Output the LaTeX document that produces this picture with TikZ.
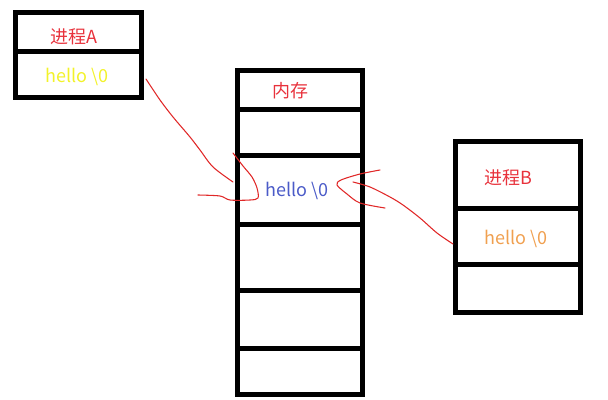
\documentclass[tikz,border=0pt]{standalone}
\usepackage{fontspec}
\setmainfont{Noto Sans CJK SC}
\usepackage{xcolor}

\definecolor{labelred}{HTML}{E8323C}
\definecolor{helloyellow}{HTML}{F2F22A}
\definecolor{helloblue}{HTML}{4B5BC8}
\definecolor{helloorange}{HTML}{F0A050}
\definecolor{penred}{HTML}{E02828}

\begin{document}
\begin{tikzpicture}[x=0.75pt,y=-0.75pt,
    box/.style={line width=3.75pt,line join=miter},
    pen/.style={penred,line width=0.8pt,line cap=round,line join=round},
    txt/.style={inner sep=0pt,font=\fontsize{13.5}{16}\selectfont}]
            		\useasboundingbox (0,0) rectangle (608,400);

            		% process A
            		\draw[box] (15.5,12.5) rectangle (141.5,97.5) (15.5,51) -- (141.5,51);
            		\node (pa) at (74,37) [txt,text=labelred] {进程A};
            		\node (ha) at (77,77) [txt,text=helloyellow] {hello \textbackslash0};

            		% memory
            		\draw[box] (237.5,70) rectangle (362.5,394.5);
            		\foreach \y in {109.5,155.5,224.5,290,348}
            			\draw[box] (237.5,\y) -- (362.5,\y);
            		\node (mem) at (290,91) [txt,text=labelred] {内存};
            		\node (hm) at (297,191) [txt,text=helloblue] {hello \textbackslash0};

            		% process B
            		\draw[box] (455.5,141.5) rectangle (580.5,312.5) (455.5,208) -- (580.5,208) (455.5,264.5) -- (580.5,264.5);
            		\node (pb) at (508,178) [txt,text=labelred] {进程B};
            		\node (hb) at (516,239) [txt,text=helloorange] {hello \textbackslash0};

            		% pen strokes
            		\coordinate (a1) at (146,79);
            		\coordinate (a2) at (233,182);
            		\coordinate (b1) at (453,244);
            		\coordinate (b2) at (353,182);
            		\draw[pen] plot[smooth,tension=0.5] coordinates {(a1) (160,100) (173,117) (190,137) (200,150) (213,167) (a2)};
            		\draw[pen] plot[smooth,tension=0.5] coordinates {(233,153) (243,166) (252,177) (257,188) (258,198) (250,200) (230,200) (220,196) (198,195)};
            		\draw[pen] plot[smooth,tension=0.5] coordinates {(b1) (437,233) (420,218) (403,205) (390,197) (370,187) (b2)};
            		\draw[pen] plot[smooth,tension=0.5] coordinates {(380,170) (360,174) (341,180) (337,185) (347,194) (360,203) (385,208)};

        		\end{tikzpicture}
\end{document}
